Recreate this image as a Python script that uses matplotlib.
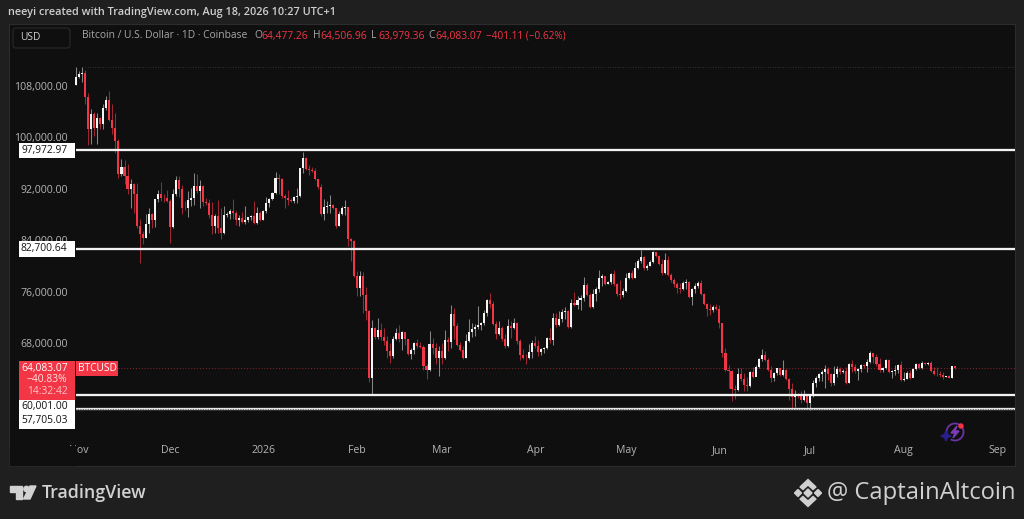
"""
BTCUSD daily candles, dark TradingView snapshot with four horizontal levels
"""

import matplotlib
matplotlib.use('Agg')
import matplotlib.dates as mdates
import matplotlib.pyplot as plt
import pandas as pd
from matplotlib.patches import Circle, FancyBboxPatch, Polygon, Rectangle, Arc

# prices in thousands of USD
closes = [
    109.39, 109.8, 110.06, 106.33, 101.25, 103.68, 101.5, 103.06, 102.03, 104.51,
    105.81, 102.7, 101.5, 99.43, 94.24, 95.39, 93.99, 91.91, 92.79, 91.24,
    86.2, 84.91, 84.39, 86.57, 88.12, 87.09, 90.35, 91.13, 90.61, 90.51,
    90.09, 86.05, 91.13, 93.31, 91.91, 89.06, 88.95, 90.2, 90.51, 92.43,
    91.65, 92.43, 89.99, 89.84, 87.92, 86.2, 87.76, 85.95, 85.16, 87.91,
    88.12, 88.54, 88.28, 87.14, 87.5, 86.82, 87.14, 87.6, 87.76, 86.72,
    88.28, 87.14, 88.54, 89.83, 90.46, 91.39, 93.72, 93.46, 90.87, 90.61,
    90.25, 90.09, 90.77, 90.87, 95.17, 96.83, 95.02, 94.92, 94.76, 93.46,
    92.32, 88.02, 89.21, 89.31, 89.42, 88.95, 86.2, 88.02, 89.05, 89.16,
    84.23, 83.87, 78.42, 76.61, 78.42, 75.47, 72.98, 62.5, 70.38, 68.93,
    69.97, 68.93, 68.31, 66.75, 65.97, 68.57, 69.6, 68.57, 69.76, 68.57,
    66.24, 66.86, 67.94, 67.53, 67.37, 64.42, 63.8, 67.79, 67.17, 65.61,
    66.75, 65.61, 68.46, 68.2, 72.46, 70.64, 67.69, 67.0, 65.61, 68.31,
    69.76, 70.12, 70.49, 70.75, 71.16, 72.72, 74.69, 74.01, 70.9, 69.35,
    70.38, 68.57, 67.53, 70.64, 70.28, 71.16, 68.31, 66.08, 65.72, 65.61,
    66.6, 68.05, 67.48, 66.6, 67.12, 67.27, 68.83, 68.41, 71.84, 70.8,
    71.68, 72.87, 72.98, 70.49, 74.27, 73.91, 74.64, 75.05, 76.97, 75.42,
    73.6, 75.68, 76.45, 78.06, 78.37, 77.23, 77.54, 78.68, 77.13, 75.57,
    75.47, 76.09, 78.16, 78.84, 78.16, 79.62, 80.76, 81.43, 79.62, 80.03,
    80.65, 82.16, 81.53, 80.24, 78.94, 80.91, 78.53, 77.75, 77.13, 76.6,
    76.35, 77.28, 77.49, 75.15, 76.45, 76.87, 77.28, 75.57, 74.01, 73.24,
    73.13, 73.65, 73.24, 71.06, 66.39, 63.8, 63.64, 60.89, 60.68, 63.17,
    62.34, 61.41, 61.31, 63.48, 62.76, 64.31, 65.46, 66.08, 65.35, 63.8,
    62.6, 63.28, 64.05, 62.97, 63.8, 62.34, 60.79, 59.65, 59.85, 59.75,
    59.13, 60.01, 58.71, 59.75, 61.83, 62.5, 63.12, 63.54, 63.9, 63.12,
    61.83, 63.12, 63.9, 63.49, 63.64, 61.83, 64.78, 64.26, 63.64, 63.9,
    64.58, 64.37, 65.09, 66.39, 65.82, 64.68, 63.75, 64.06, 65.3, 63.54,
    63.64, 63.75, 64.58, 62.19, 62.35, 63.38, 62.5, 63.9, 64.78, 64.16,
    64.83, 64.68, 64.83, 63.64, 63.23, 63.12, 63.02, 62.71, 62.81, 62.6,
    64.48, 64.08,
]
highs = [
    110.95, 110.32, 110.95, 110.43, 106.95, 104.36, 104.0, 103.84, 103.17, 105.24,
    106.43, 107.21, 105.14, 103.84, 99.69, 96.58, 96.42, 95.8, 93.47, 92.95,
    92.95, 87.24, 85.43, 88.02, 89.06, 88.28, 90.46, 91.75, 93.05, 91.24,
    91.75, 90.35, 91.91, 93.99, 93.99, 92.58, 90.09, 91.65, 92.17, 94.5,
    94.35, 93.36, 92.58, 90.51, 90.35, 89.99, 88.02, 90.2, 89.05, 89.31,
    88.38, 88.8, 90.35, 88.54, 87.86, 88.38, 89.31, 87.65, 87.91, 90.09,
    89.21, 88.54, 88.64, 90.77, 90.61, 91.49, 94.6, 94.24, 93.62, 91.13,
    91.75, 90.61, 90.87, 92.17, 95.28, 97.72, 96.99, 95.64, 95.43, 95.28,
    93.57, 92.69, 90.35, 90.09, 90.97, 89.57, 89.05, 88.54, 89.31, 90.25,
    89.05, 84.39, 83.97, 79.2, 79.2, 79.0, 76.71, 73.08, 71.52, 70.49,
    71.94, 71.16, 70.28, 69.09, 68.05, 69.09, 70.38, 70.8, 69.86, 68.98,
    68.41, 67.27, 68.2, 68.57, 68.15, 67.69, 64.78, 69.86, 68.72, 68.05,
    67.53, 68.05, 69.97, 68.98, 73.91, 73.5, 71.16, 68.2, 67.53, 69.35,
    71.68, 71.16, 71.0, 73.75, 71.26, 73.08, 74.79, 75.83, 74.53, 71.42,
    71.42, 70.64, 69.35, 71.68, 71.42, 71.84, 71.27, 68.57, 67.01, 66.24,
    67.9, 68.41, 69.09, 68.41, 67.27, 67.43, 68.98, 70.28, 72.72, 72.72,
    72.98, 73.24, 73.6, 73.08, 74.79, 75.93, 75.31, 75.47, 78.27, 77.39,
    75.83, 76.35, 76.71, 79.31, 78.68, 78.42, 77.65, 78.94, 79.36, 77.39,
    77.75, 76.5, 78.84, 79.05, 79.31, 80.65, 81.02, 82.42, 81.54, 80.34,
    80.86, 82.31, 82.21, 81.64, 81.12, 81.95, 81.53, 78.94, 78.16, 77.49,
    77.28, 77.64, 78.01, 77.64, 76.61, 77.28, 77.64, 77.8, 75.83, 74.27,
    74.01, 73.91, 74.01, 73.86, 71.16, 67.27, 64.52, 63.8, 61.41, 64.11,
    64.11, 63.28, 62.76, 63.64, 64.26, 64.52, 65.71, 67.12, 66.75, 65.71,
    64.42, 63.48, 64.16, 64.16, 65.3, 64.0, 62.6, 61.82, 60.68, 60.27,
    60.53, 60.63, 60.01, 59.75, 62.19, 62.86, 63.38, 63.8, 64.52, 64.26,
    63.38, 64.42, 64.42, 64.26, 63.9, 64.26, 64.94, 65.3, 64.78, 64.06,
    64.68, 64.68, 65.46, 66.75, 66.49, 66.24, 65.61, 64.26, 65.46, 65.56,
    63.75, 64.58, 64.78, 65.2, 63.54, 63.64, 63.75, 64.06, 64.94, 64.94,
    65.2, 65.09, 65.09, 65.2, 64.26, 64.26, 63.64, 63.49, 62.92, 63.02,
    64.5, 64.51,
]
lows = [
    108.1, 109.18, 108.66, 105.14, 98.81, 98.91, 100.21, 99.0, 101.25, 101.25,
    104.2, 102.54, 100.57, 97.62, 93.73, 93.99, 92.79, 91.13, 89.06, 88.28,
    85.95, 80.5, 83.35, 84.29, 85.17, 85.95, 86.1, 89.99, 90.09, 89.99,
    89.99, 83.61, 85.95, 90.87, 90.72, 88.02, 88.7, 87.6, 89.32, 89.42,
    91.39, 89.06, 89.32, 89.47, 87.5, 85.01, 85.17, 85.17, 84.23, 84.9,
    87.6, 87.34, 87.24, 86.36, 86.2, 86.62, 86.46, 86.82, 87.14, 86.46,
    86.56, 87.03, 87.14, 88.28, 89.21, 90.25, 91.13, 91.13, 90.61, 89.05,
    89.42, 89.99, 89.83, 89.83, 90.77, 94.4, 94.92, 94.09, 94.66, 93.36,
    92.01, 87.76, 87.14, 88.28, 88.28, 88.8, 85.84, 86.2, 87.91, 87.91,
    83.09, 80.76, 78.32, 75.31, 75.31, 72.72, 71.52, 61.98, 59.91, 68.57,
    68.57, 68.46, 67.69, 65.61, 64.94, 65.71, 68.46, 68.2, 67.0, 67.69,
    66.13, 65.46, 66.34, 67.17, 67.17, 63.8, 62.34, 63.69, 66.24, 64.68,
    62.86, 64.78, 65.46, 66.75, 67.27, 68.57, 67.53, 66.75, 65.46, 65.61,
    68.1, 68.93, 69.09, 70.12, 69.97, 70.8, 72.2, 73.5, 70.8, 68.57,
    69.24, 68.31, 67.17, 67.37, 68.72, 70.13, 67.9, 65.35, 65.46, 64.78,
    65.51, 65.72, 67.27, 65.98, 66.13, 66.5, 67.01, 68.05, 67.69, 70.54,
    70.64, 71.32, 71.68, 70.38, 70.38, 73.76, 73.24, 73.13, 74.53, 75.31,
    73.5, 73.5, 74.53, 75.88, 76.87, 77.02, 77.13, 77.13, 76.87, 75.31,
    74.79, 75.16, 75.99, 77.9, 78.01, 78.06, 79.46, 80.5, 79.31, 79.31,
    79.98, 80.5, 81.43, 80.08, 78.53, 78.68, 78.42, 77.49, 76.76, 75.83,
    75.83, 76.24, 76.35, 75.05, 73.91, 75.83, 76.61, 75.41, 73.91, 72.2,
    72.3, 72.87, 73.13, 70.38, 65.87, 63.69, 61.05, 58.97, 59.33, 60.58,
    62.14, 60.58, 60.48, 61.1, 62.55, 63.12, 64.16, 65.2, 65.2, 63.64,
    61.93, 62.08, 62.97, 62.86, 62.86, 62.19, 59.13, 57.83, 58.09, 59.44,
    58.71, 58.97, 57.83, 57.57, 59.6, 61.15, 62.09, 62.09, 61.05, 62.19,
    61.31, 61.46, 62.71, 63.23, 63.38, 61.67, 61.72, 63.49, 63.38, 62.19,
    63.54, 64.16, 63.54, 64.94, 64.94, 64.42, 63.54, 63.54, 63.9, 63.28,
    62.5, 63.02, 63.28, 62.09, 62.09, 62.4, 62.35, 63.02, 63.75, 63.9,
    63.95, 64.58, 64.58, 63.54, 63.02, 62.86, 62.76, 62.35, 62.71, 62.5,
    62.5, 63.98,
]
first_open = 108.1
last_date = '2026-08-18'

levels = [97.97297, 82.70064, 60.001]
dotted_level = 57.70503
visible_high = 110.95
last_close = 64.08307

price_ticks = [108000, 100000, 92000, 84000, 76000, 68000]
price_labels = ['108,000.00', '100,000.00', '92,000.00', '84,000.00', '76,000.00', '68,000.00']
month_ticks = ['2025-11-01', '2025-12-01', '2026-01-01', '2026-02-01', '2026-03-01', '2026-04-01',
               '2026-05-01', '2026-06-01', '2026-07-01', '2026-08-01', '2026-09-01']
month_labels = ['Nov', 'Dec', '2026', 'Feb', 'Mar', 'Apr', 'May', 'Jun', 'Jul', 'Aug', 'Sep']

header_title = 'Bitcoin / U.S. Dollar · 1D · Coinbase'
header_ohlc = [('O', '64,477.26', 254), ('H', '64,506.96', 313), ('L', '63,979.36', 371), ('C', '64,083.07', 428)]

OUTER = '#1f1f1f'
PANEL = '#0f0f0f'
RED = '#f23645'
GREY = '#b4b4b4'
FONT = 'Open Sans'

plt.rcParams['font.family'] = [FONT, 'DejaVu Sans']

dates = mdates.date2num(pd.date_range(end=last_date, periods=len(closes), freq='D'))
opens = [first_open] + closes[:-1]
colors = ['#f4f4f4' if c >= o else RED for o, c in zip(opens, closes)]
wick_colors = ['#858585' if c >= o else '#9a2833' for o, c in zip(opens, closes)]

fig = plt.figure(figsize=(10.24, 5.19), dpi=100, facecolor=OUTER)

# main chart panel, pixel box 9..1015 x 24..466
ax = fig.add_axes([9 / 1024, 1 - 466 / 519, 1006 / 1024, 442 / 519], facecolor=PANEL)
end = dates[-1]
ax.set_xlim(end - 946 / 3.02, end + 60 / 3.02)
ax.set_ylim(48.88, 117.65)

for spine in ax.spines.values():
    spine.set_color('#2c2c2c')
    spine.set_linewidth(0.8)

ax.vlines(dates, lows, highs, colors=wick_colors, linewidth=0.75, zorder=2)
bottoms = [min(o, c) for o, c in zip(opens, closes)]
heights = [max(abs(c - o), 0.12) for o, c in zip(opens, closes)]
ax.bar(dates, heights, bottom=bottoms, width=0.68, color=colors, linewidth=0, zorder=3)

# drawn levels start right after the price labels
line_start = end - (955 - 76) / 3.02
line_end = end + 60 / 3.02
ax.hlines(levels, line_start, line_end, colors='#f2f2f2', linewidth=1.65, zorder=4)
ax.hlines(dotted_level, line_start, line_end, colors='#e6e6e6', linewidth=1.65, zorder=4)
ax.hlines(dotted_level, line_start, line_end, colors='#444444', linewidth=0.6,
          linestyles=(0, (1, 1)), zorder=5)
ax.hlines(visible_high, end - (955 - 85) / 3.02, line_end, colors='#3c3c3c', linewidth=0.6,
          linestyles=(0, (1, 2)), zorder=1)
ax.hlines(last_close, end - (955 - 118) / 3.02, line_end, colors='#8a2530', linewidth=0.7,
          linestyles=(0, (1, 2)), zorder=1)

ax.set_yticks([p / 1000 for p in price_ticks])
ax.set_yticklabels(price_labels)
ax.set_xticks(mdates.date2num(pd.to_datetime(month_ticks)))
ax.set_xticklabels(month_labels)
ax.tick_params(axis='y', length=0, pad=-42.5, labelsize=7.6, labelcolor=GREY)
ax.tick_params(axis='x', length=0, pad=-15, labelsize=7.6, labelcolor=GREY)
for t in ax.get_yticklabels():
    t.set_ha('right')

# everything around the chart is placed in pixels on a full-figure overlay
over = fig.add_axes([0, 0, 1, 1], facecolor='none')
over.set_xlim(0, 1024)
over.set_ylim(519, 0)
over.axis('off')

over.add_patch(Rectangle((10, 446), 64.5, 19, color=PANEL, zorder=1))

over.text(8, 13, 'neeyi created with TradingView.com, Aug 18, 2026 10:27 UTC+1',
          color='#cfcfcf', fontsize=7.8, va='center', fontweight='semibold')

over.add_patch(FancyBboxPatch((13, 28), 57, 20, boxstyle='round,pad=0,rounding_size=3',
                              facecolor=PANEL, edgecolor='#2a2a2a', linewidth=0.8))
over.text(20, 37.5, 'USD', color='#d0d0d0', fontsize=7.3, va='center')
over.text(82, 36, header_title, color='#a8a8a8', fontsize=7.4, va='center')
for letter, value, x in header_ohlc:
    over.text(x, 36, letter, color='#a8a8a8', fontsize=7.4, va='center')
    over.text(x + 7, 36, value, color=RED, fontsize=7.4, va='center')
over.text(486, 36, '−401.11 (−0.62%)', color=RED, fontsize=7.2, va='center')


def price_box(top, bottom, color):
    over.add_patch(Rectangle((18.5, top), 56.5, bottom - top, facecolor=color, edgecolor='none', zorder=3))


def price_text(y, text, color):
    over.text(67.5, y, text, color=color, fontsize=7.4, ha='right', va='center', zorder=4)


price_box(143, 158, '#ffffff')
price_text(150.5, '97,972.97', '#111111')
price_box(241, 257, '#ffffff')
price_text(248.5, '82,700.64', '#111111')
price_box(361, 400, RED)
price_text(368, '64,083.07', '#ffffff')
price_text(380, '−40.83%', '#ffe0e0')
price_text(392, '14:32:42', '#ffc4c8')
price_box(400, 429, '#ffffff')
price_text(407, '60,001.00', '#111111')
price_text(421, '57,705.03', '#111111')

over.add_patch(Rectangle((76, 361), 42, 14.5, facecolor=RED, edgecolor='none', zorder=3))
over.text(97, 368.5, 'BTCUSD', color='#ffffff', fontsize=7.4, ha='center', va='center', zorder=4)

# assistant badge near the bottom right
over.add_patch(Arc((955, 432), 17, 17, theta1=-200, theta2=120, color='#6a32a5', linewidth=1.3))
over.add_patch(Polygon([(957, 426), (951, 433), (955, 433), (953, 438), (959, 431), (955, 431)],
                       color='#7a3bb8'))
over.add_patch(Polygon([(946, 431), (947.5, 434.5), (951, 436), (947.5, 437.5), (946, 441),
                        (944.5, 437.5), (941, 436), (944.5, 434.5)], color='#2a1f8f'))
over.add_patch(Circle((961, 426), 2, color=RED))

# footer, TradingView mark and wordmark
LOGO = '#d2d2d2'
over.add_patch(Polygon([(10, 486), (22, 486), (22, 499), (16, 499), (16, 492), (10, 492)], color=LOGO))
over.add_patch(Circle((26.5, 489), 2.7, color=LOGO))
over.add_patch(Polygon([(30, 486), (36, 486), (30, 499), (23.5, 499)], color=LOGO))
over.text(42, 493, 'TradingView', color=LOGO, fontsize=12.8, va='center', fontweight='semibold')

# footer, watermark on the right
WM = '#d0d0d0'
cx, cy = 808, 493
over.add_patch(Polygon([(cx - 4, cy), (cx, cy - 4), (cx + 4, cy), (cx, cy + 4)], color=WM))
over.add_patch(Polygon([(cx - 13.5, cy), (cx - 10, cy - 3.5), (cx - 6.5, cy), (cx - 10, cy + 3.5)], color=WM))
over.add_patch(Polygon([(cx + 13.5, cy), (cx + 10, cy - 3.5), (cx + 6.5, cy), (cx + 10, cy + 3.5)], color=WM))
over.add_patch(Polygon([(cx, cy - 13.5), (cx + 8, cy - 6), (cx + 5, cy - 3.5), (cx, cy - 8), (cx - 5, cy - 3.5),
                        (cx - 8, cy - 6)], color=WM))
over.add_patch(Polygon([(cx, cy + 13.5), (cx + 8, cy + 6), (cx + 5, cy + 3.5), (cx, cy + 8), (cx - 5, cy + 3.5),
                        (cx - 8, cy + 6)], color=WM))
over.text(827, 493, '@ CaptainAltcoin', color=WM, fontsize=17.1, va='center')

fig.savefig('out.png', dpi=100, facecolor=OUTER)
